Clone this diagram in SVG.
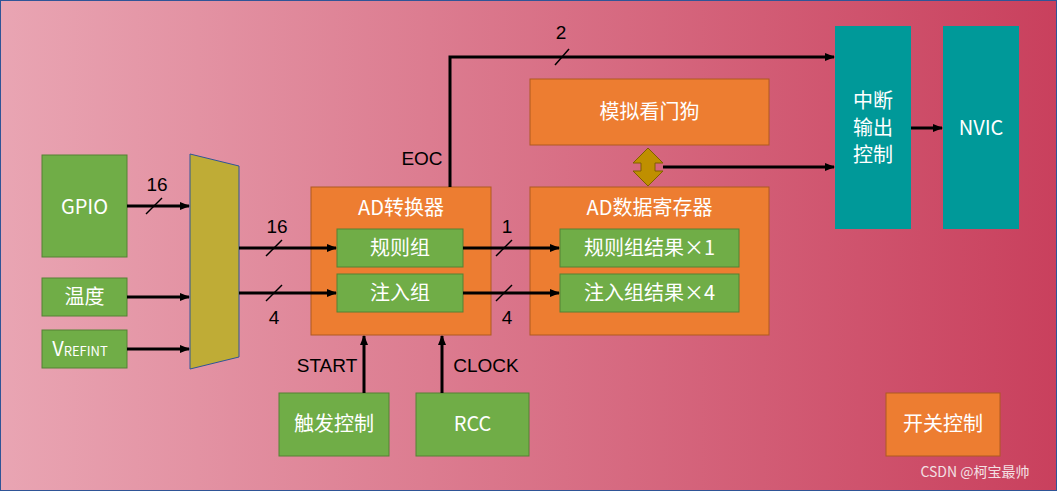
<svg xmlns="http://www.w3.org/2000/svg" width="1057" height="491" viewBox="0 0 1057 491">
<defs>
<linearGradient id="bg" x1="0" y1="0" x2="1" y2="0"><stop offset="0" stop-color="#e9a5b3"/><stop offset="1" stop-color="#c9405d"/></linearGradient>
<marker id="ar" markerWidth="10" markerHeight="8" refX="9" refY="4" orient="auto" markerUnits="userSpaceOnUse"><path d="M0,0 L10,4 L0,8 Z" fill="#000"/></marker>
<style>
.g{fill:#70ad47;stroke:#548235;stroke-width:1}
.o{fill:#ed7d31;stroke:#ae5a21;stroke-width:1}
.t{fill:#009999}
.w{font-family:"Noto Sans CJK SC","Liberation Sans",sans-serif;font-size:20px;fill:#fff;text-anchor:middle}
.k{font-family:"Liberation Sans","Noto Sans CJK SC",sans-serif;font-size:19px;fill:#000;text-anchor:middle}
.c line,.c polyline{stroke:#000;stroke-width:3;fill:none}
.c .s{stroke-width:1.5}
</style>
</defs>
<rect x="0.5" y="0.5" width="1056" height="490" fill="url(#bg)" stroke="#2f5597"/>
<g id="gpio"><rect class="g" x="42" y="155" width="85" height="102"/><text class="w" x="84.5" y="214">GPIO</text></g>
<g id="temp"><rect class="g" x="42" y="278" width="85" height="38"/><text class="w" x="84.5" y="304">温度</text></g>
<g id="vref"><rect class="g" x="42" y="330" width="85" height="38"/><text class="w" x="80" y="356">V<tspan font-size="13">REFINT</tspan></text></g>
<g id="mux"><polygon points="190,154 239,166 239,357 190,369" fill="#bfac36" stroke="#2f5597" stroke-width="1"/></g>
<g id="adc"><rect class="o" x="311" y="187" width="180" height="148"/><text class="w" x="401" y="215">AD转换器</text></g>
<g id="regular"><rect class="g" x="337" y="229" width="126" height="38"/><text class="w" x="400" y="255">规则组</text></g>
<g id="inject"><rect class="g" x="337" y="274" width="126" height="38"/><text class="w" x="400" y="300">注入组</text></g>
<g id="dr"><rect class="o" x="530" y="187" width="239" height="148"/><text class="w" x="649.5" y="215">AD数据寄存器</text></g>
<g id="rres"><rect class="g" x="560" y="229" width="179" height="38"/><text class="w" x="649.5" y="255">规则组结果×1</text></g>
<g id="ires"><rect class="g" x="560" y="274" width="179" height="38"/><text class="w" x="649.5" y="300">注入组结果×4</text></g>
<g id="awd"><rect class="o" x="530" y="79" width="239" height="66"/><text class="w" x="649.5" y="119">模拟看门狗</text></g>
<g id="irq"><rect class="t" x="835" y="26" width="76" height="203"/><text class="w" x="873" y="108">中断</text><text class="w" x="873" y="135">输出</text><text class="w" x="873" y="162">控制</text></g>
<g id="nvic"><rect class="t" x="943" y="26" width="76" height="203"/><text class="w" x="981" y="135">NVIC</text></g>
<g id="trig"><rect class="g" x="279" y="393" width="110" height="63"/><text class="w" x="334" y="431">触发控制</text></g>
<g id="rcc"><rect class="g" x="416" y="393" width="113" height="63"/><text class="w" x="472.5" y="431">RCC</text></g>
<g id="sw"><rect class="o" x="886" y="393" width="114" height="63"/><text class="w" x="943" y="431">开关控制</text></g>
<g id="dbl"><polygon points="648,148 663,163 655,163 655,171 663,171 648,186 633,171 641,171 641,163 633,163" fill="#bf8f00" stroke="#7f6000" stroke-width="1"/></g>
<g class="c" id="connectors">
<line x1="127" y1="206" x2="189" y2="206" marker-end="url(#ar)"/>
<line x1="127" y1="297" x2="189" y2="297" marker-end="url(#ar)"/>
<line x1="127" y1="349" x2="189" y2="349" marker-end="url(#ar)"/>
<line x1="239" y1="248" x2="336" y2="248" marker-end="url(#ar)"/>
<line x1="239" y1="293" x2="336" y2="293" marker-end="url(#ar)"/>
<line x1="463" y1="248" x2="559" y2="248" marker-end="url(#ar)"/>
<line x1="463" y1="293" x2="559" y2="293" marker-end="url(#ar)"/>
<polyline points="450,187 450,57 834,57" marker-end="url(#ar)"/>
<line x1="663" y1="167" x2="834" y2="167" marker-end="url(#ar)"/>
<line x1="911" y1="128" x2="942" y2="128" marker-end="url(#ar)"/>
<line x1="364" y1="393" x2="364" y2="336" marker-end="url(#ar)"/>
<line x1="442" y1="393" x2="442" y2="336" marker-end="url(#ar)"/>
<line class="s" x1="146" y1="214" x2="162" y2="198"/>
<line class="s" x1="266" y1="256" x2="282" y2="240"/>
<line class="s" x1="266" y1="301" x2="282" y2="285"/>
<line class="s" x1="496" y1="256" x2="512" y2="240"/>
<line class="s" x1="496" y1="301" x2="512" y2="285"/>
<line class="s" x1="530" y1="65" x2="544" y2="49" transform="translate(25,0)"/>
</g>
<g id="labels">
<text class="k" x="157" y="191">16</text>
<text class="k" x="277" y="233">16</text>
<text class="k" x="274" y="324">4</text>
<text class="k" x="507" y="233">1</text>
<text class="k" x="507" y="324">4</text>
<text class="k" x="561" y="39">2</text>
<text class="k" x="422" y="165">EOC</text>
<text class="k" x="327" y="372">START</text>
<text class="k" x="486" y="372">CLOCK</text>
</g>
<text x="975" y="477" font-family="'Noto Sans CJK SC','Liberation Sans',sans-serif" font-size="14" fill="#f3e0e4" text-anchor="middle">CSDN @柯宝最帅</text>
</svg>
